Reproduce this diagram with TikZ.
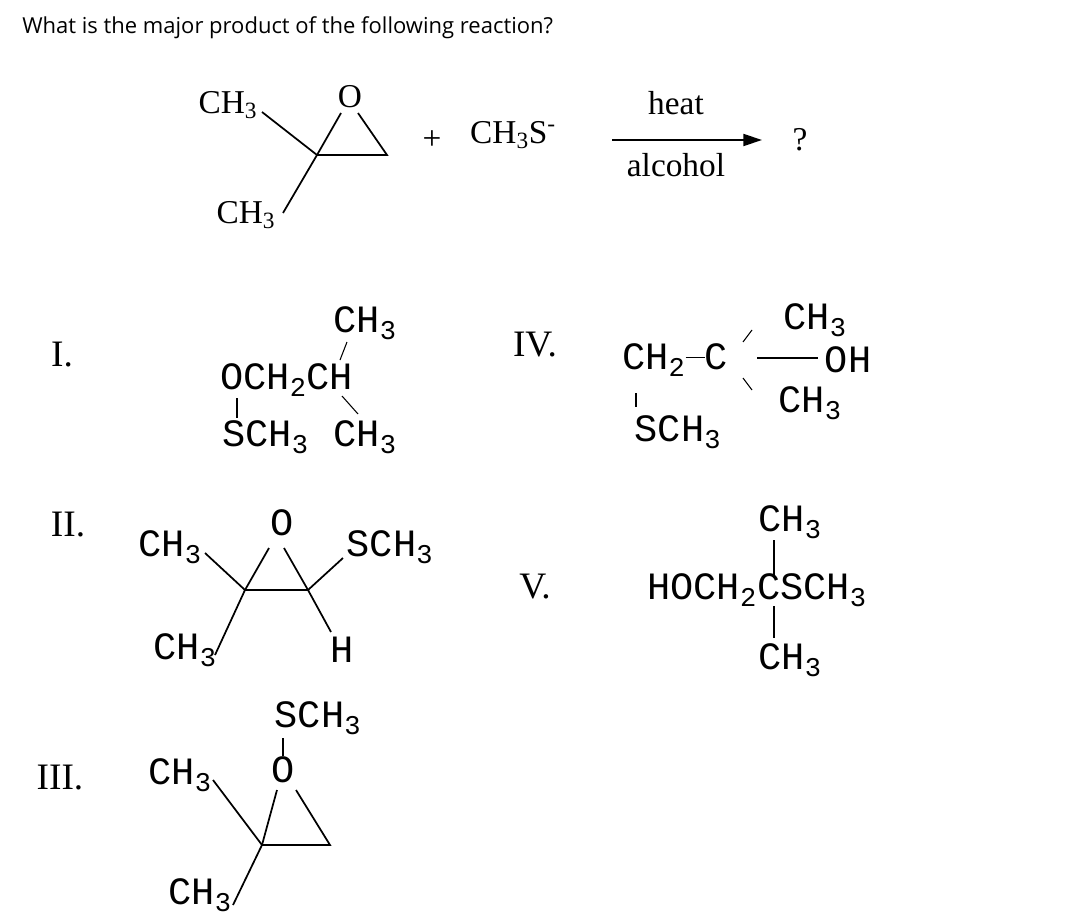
\documentclass[tikz,border=0pt]{standalone}
\usepackage{fontspec}
\setmainfont{Liberation Serif}
\newfontfamily\qfont{Open Sans}
\newfontfamily\chm{Liberation Mono}
\usetikzlibrary{arrows.meta}
\tikzset{
 tt/.style={inner sep=0pt,font=\fontsize{25}{28}\selectfont},
 ch/.style={inner sep=0pt,font=\chm\fontsize{29}{32}\selectfont},
 lab/.style={inner sep=0pt,font=\fontsize{28}{30}\selectfont},
 bond/.style={line width=1.3pt},
}
\begin{document}
\begin{tikzpicture}[x=0.75pt,y=-0.75pt]
\useasboundingbox (0,0) rectangle (1072,924);
\fill[white] (0,0) rectangle (1072,924);
\node[anchor=west,inner sep=0pt,font=\qfont\fontsize{16.5}{18}\selectfont] (q) at (22,28) {What is the major product of the following reaction?};
% reaction
\node[tt] (a1) at (228,105) {CH\textsubscript{3}};
\node[tt] (a2) at (246,215) {CH\textsubscript{3}};
\node[tt] (aO) at (350,97) {O};
\coordinate (c1) at (317,155); \coordinate (c2) at (387,155);
\draw[bond] (262,112) -- (c1) -- (c2) -- (358,113);
\draw[bond] (c1) -- (341,113);
\draw[bond] (c1) -- (283,213);
\node[tt] (pl) at (432,140) {+};
\node[tt] (ms) at (513,135) {CH\textsubscript{3}S\textsuperscript{-}};
\coordinate (ar1) at (612,140); \coordinate (ar2) at (762,140);
\draw[line width=1.4pt,-{Triangle[length=14pt,width=9pt]}] (ar1) -- (ar2);
\node[tt] (ht) at (676,103) {heat};
\node[tt] (al) at (676,165) {alcohol};
\node[tt] (qm) at (800,140) {?};
% I
\node[lab] (L1) at (62,355) {I.};
\node[ch,anchor=west] (i1) at (220,380) {OCH\textsubscript{2}CH};
\node[ch] (i2) at (365,323) {CH\textsubscript{3}};
\node[ch,anchor=west] (i3) at (222,437) {SCH\textsubscript{3}};
\node[ch] (i4) at (365,437) {CH\textsubscript{3}};
\draw[bond] (237,398) -- (237,418);
\draw[thick] (347,342) -- (340,360);
\draw[thick] (342,396) -- (358,414);
% II
\node[lab] (L2) at (68,525) {II.};
\node[ch] (ii1) at (170,547) {CH\textsubscript{3}};
\node[ch] (iiO) at (282,523) {O};
\node[ch] (ii2) at (390,547) {SCH\textsubscript{3}};
\node[ch] (ii3) at (185,650) {CH\textsubscript{3}};
\node[ch] (ii4) at (342,650) {H};
\coordinate (d1) at (245,590); \coordinate (d2) at (308,590);
\draw[bond] (205,553) -- (d1) -- (d2) -- (343,558);
\draw[bond] (d1) -- (269,548); \draw[bond] (d2) -- (284,548);
\draw[bond] (d1) -- (215,655);
\draw[bond] (d2) -- (331,632);
% III
\node[lab] (L3) at (60,778) {III.};
\node[ch] (iii1) at (180,775) {CH\textsubscript{3}};
\node[ch] (iiiO) at (283,770) {O};
\node[ch] (iii2) at (318,718) {SCH\textsubscript{3}};
\node[ch] (iii3) at (200,895) {CH\textsubscript{3}};
\coordinate (e1) at (262,845); \coordinate (e2) at (330,845);
\draw[bond] (213,780) -- (e1) -- (e2) -- (296,790);
\draw[bond] (e1) -- (277,790);
\draw[bond] (e1) -- (233,905);
\draw[bond] (283,738) -- (283,756);
% IV
\node[lab] (L4) at (535,345) {IV.};
\node[ch,anchor=west] (iv1) at (622,360) {CH\textsubscript{2}{\rule[0.3em]{0.5em}{1pt}}C};
\draw[bond] (757,358) -- (818,358);
\node[ch] (iv2) at (848,360) {OH};
\node[ch] (iv3) at (815,320) {CH\textsubscript{3}};
\node[ch] (iv4) at (810,403) {CH\textsubscript{3}};
\node[ch] (iv5) at (678,432) {SCH\textsubscript{3}};
\draw[thick] (752,330) -- (743,342);
\draw[thick] (743,378) -- (752,390);
\draw[thick] (636,393) -- (636,407);
% V
\node[lab] (L5) at (535,587) {V.};
\node[ch] (v1) at (757,590) {HOCH\textsubscript{2}CSCH\textsubscript{3}};
\node[ch] (v2) at (790,522) {CH\textsubscript{3}};
\node[ch] (v3) at (790,660) {CH\textsubscript{3}};
\draw[bond] (774,540) -- (774,575);
\draw[bond] (774,606) -- (774,638);
\end{tikzpicture}
\end{document}
